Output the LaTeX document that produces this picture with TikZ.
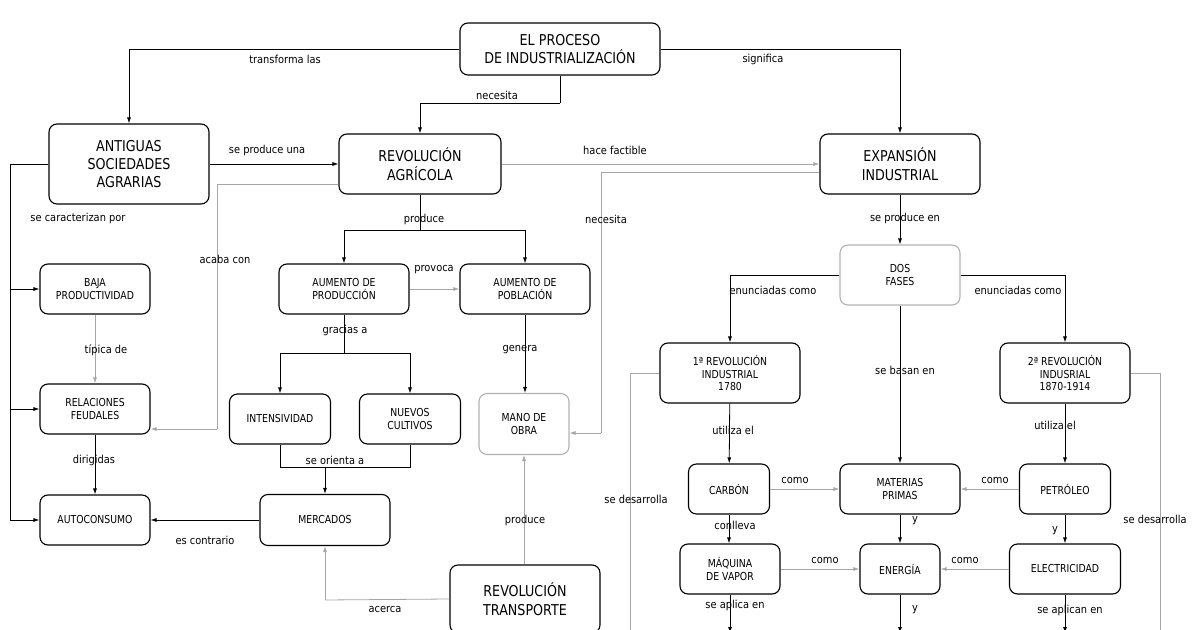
\documentclass[tikz,border=0pt]{standalone}
\usepackage{fontspec}
\setmainfont{DejaVu Sans}
\usetikzlibrary{arrows.meta,calc}
\begin{document}
\begin{tikzpicture}[x=1bp,y=-1bp,
  box/.style={draw,rounded corners=8bp,line width=1.1bp,align=center,inner sep=1bp,font=\fontsize{11}{13}\selectfont\addfontfeatures{FakeStretch=0.85}},
  big/.style={box,font=\fontsize{15}{18.5}\selectfont\addfontfeatures{FakeStretch=0.85}},
  gbox/.style={box,draw=gray!60},
  e/.style={line width=0.8bp,-{Latex[length=6bp,width=4bp]}},
  l/.style={line width=0.8bp},
  g/.style={draw=gray!70},
  lab/.style={font=\fontsize{11}{13}\selectfont\addfontfeatures{FakeStretch=0.9},inner sep=0}]
\useasboundingbox (0,0) rectangle (1200,630);
\clip (0,0) rectangle (1200,630);
\node[big,minimum width=200bp,minimum height=52bp] (proceso) at (560,49) {EL PROCESO\\DE INDUSTRIALIZACIÓN};
\node[big,minimum width=160bp,minimum height=80bp] (antiguas) at (129,164) {ANTIGUAS\\SOCIEDADES\\AGRARIAS};
\node[big,minimum width=162bp,minimum height=60bp] (revagr) at (420,164) {REVOLUCIÓN\\AGRÍCOLA};
\node[big,minimum width=160bp,minimum height=60bp] (expansion) at (900,164) {EXPANSIÓN\\INDUSTRIAL};
\node[gbox,minimum width=120bp,minimum height=60bp] (fases) at (900,275) {DOS\\FASES};
\node[box,minimum width=110bp,minimum height=50bp] (baja) at (95,289) {BAJA\\PRODUCTIVIDAD};
\node[box,minimum width=110bp,minimum height=50bp] (relaciones) at (95,409) {RELACIONES\\FEUDALES};
\node[box,minimum width=110bp,minimum height=50bp] (autoconsumo) at (95,520) {AUTOCONSUMO};
\node[box,minimum width=130bp,minimum height=50bp] (aumprod) at (344,289) {AUMENTO DE\\PRODUCCIÓN};
\node[box,minimum width=130bp,minimum height=50bp] (aumpob) at (525,289) {AUMENTO DE\\POBLACIÓN};
\node[box,minimum width=101bp,minimum height=50bp] (intens) at (280,419) {INTENSIVIDAD};
\node[box,minimum width=101bp,minimum height=50bp] (nuevos) at (410,419) {NUEVOS\\CULTIVOS};
\node[gbox,minimum width=90bp,minimum height=61bp] (mano) at (524,424) {MANO DE\\OBRA};
\node[box,minimum width=130bp,minimum height=51bp] (mercados) at (325,520) {MERCADOS};
\node[big,minimum width=150bp,minimum height=68bp] (revtrans) at (525,599) {REVOLUCIÓN\\TRANSPORTE};
\node[box,minimum width=140bp,minimum height=60bp] (rev1) at (730,373) {1ª REVOLUCIÓN\\INDUSTRIAL\\1780};
\node[box,minimum width=130bp,minimum height=60bp] (rev2) at (1065,373) {2ª REVOLUCIÓN\\INDUSRIAL\\1870-1914};
\node[box,minimum width=81bp,minimum height=50bp] (carbon) at (729,489) {CARBÓN};
\node[box,minimum width=120bp,minimum height=50bp] (materias) at (900,489) {MATERIAS\\PRIMAS};
\node[box,minimum width=91bp,minimum height=50bp] (petroleo) at (1065,489) {PETRÓLEO};
\node[box,minimum width=100bp,minimum height=50bp] (maquina) at (730,569) {MÁQUINA\\DE VAPOR};
\node[box,minimum width=80bp,minimum height=50bp] (energia) at (900,569) {ENERGÍA};
\node[box,minimum width=111bp,minimum height=50bp] (electr) at (1065,569) {ELECTRICIDAD};
\coordinate (n1) at (560,103);
\coordinate (c2) at (601,433);
\coordinate (c3) at (217,429);
\coordinate (c4) at (10,520);
\coordinate (p1) at (420,230);
\coordinate (p2) at (344,353);
\coordinate (p3) at (325,467);
\coordinate (t1) at (325,600);
\coordinate (d1) at (630,636);
\coordinate (d2) at (1160,636);
\coordinate (b1) at (730,633);
\coordinate (b2) at (900,633);
\coordinate (b3) at (1065,633);
% edges
\draw[e] (proceso.west) -| (antiguas.north);
\draw[e] (proceso.east) -| (expansion.north);
\draw[l] (proceso.south) -- (n1);
\draw[e] (n1) -| (revagr.north);
\draw[e] (antiguas.east) -- (revagr.west);
\draw[e,g] (revagr.east) -- (expansion.west);
\draw[l,g] ([yshift=-8bp]expansion.west) -| (c2);
\draw[e,g] (c2) -- (c2 -| mano.east);
\draw[l,g] ([yshift=-20bp]revagr.west) -| (c3);
\draw[e,g] (c3) -- (c3 -| relaciones.east);
\draw[l] (antiguas.west) -| (c4);
\draw[e] (c4) -- (autoconsumo.west);
\draw[e] (baja.west -| c4) -- (baja.west);
\draw[e] (relaciones.west -| c4) -- (relaciones.west);
\draw[e,g] (baja) -- (relaciones);
\draw[e] (relaciones) -- (autoconsumo);
\draw[l] (revagr.south) -- (p1);
\draw[e] (p1) -| (aumprod.north);
\draw[e] (p1) -| (aumpob.north);
\draw[e,g] (aumprod) -- (aumpob);
\draw[l] (aumprod.south) -- (p2);
\draw[e] (p2) -| (intens.north);
\draw[e] (p2) -| (nuevos.north);
\draw[e] (aumpob) -- (aumpob.south |- mano.north);
\draw[l] (intens.south) |- (p3);
\draw[l] (nuevos.south) |- (p3);
\draw[e] (p3) -- (mercados.north);
\draw[e] (mercados) -- (autoconsumo);
\draw[e,g] (revtrans.north -| mano) -- (mano.south);
\draw[l,g] (revtrans.west) -- (t1);
\draw[e,g] (t1) -- (mercados.south);
\draw[e] (expansion) -- (fases);
\draw[e] (fases.west) -| (rev1.north);
\draw[e] (fases.east) -| (rev2.north);
\draw[e] (fases) -- (materias);
\draw[l,g] (rev1.west) -| (d1);
\draw[l,g] (rev2.east) -| (d2);
\draw[e] (rev1) -- (carbon);
\draw[e] (rev2) -- (petroleo);
\draw[e] (carbon.south) -- (carbon.south |- maquina.north);
\draw[e,g] (carbon) -- (materias);
\draw[e,g] (petroleo) -- (materias);
\draw[e] (materias) -- (energia);
\draw[e] (petroleo) -- (electr);
\draw[e,g] (maquina) -- (energia);
\draw[e,g] (electr) -- (energia);
\draw[e] (maquina.south) -- (b1);
\draw[e] (energia.south) -- (b2);
\draw[e] (electr.south) -- (b3);
% labels
\node[lab] (L1) at (285,59) {transforma las};
\node[lab] (L2) at (763,59) {significa};
\node[lab] (L3) at (497,95) {necesita};
\node[lab] (L4) at (267,150) {se produce una};
\node[lab] (L5) at (615,150) {hace factible};
\node[lab] (L6) at (606,219) {necesita};
\node[lab] (L7) at (78,218) {se caracterizan por};
\node[lab] (L8) at (225,259) {acaba con};
\node[lab] (L9) at (424,219) {produce};
\node[lab] (L10) at (434,270) {provoca};
\node[lab] (L11) at (345,330) {gracias a};
\node[lab] (L12) at (520,350) {genera};
\node[lab] (L13) at (106,350) {típica de};
\node[lab] (L14) at (94,460) {dirigidas};
\node[lab] (L15) at (335,460) {se orienta a};
\node[lab] (L16) at (205,540) {es contrario};
\node[lab] (L17) at (525,520) {produce};
\node[lab] (L18) at (385,610) {acerca};
\node[lab] (L19) at (905,218) {se produce en};
\node[lab] (L20) at (773,290) {enunciadas como};
\node[lab] (L21) at (1018,290) {enunciadas como};
\node[lab] (L22) at (905,370) {se basan en};
\node[lab] (L23) at (733,430) {utiliza el};
\node[lab] (L24) at (1055,425) {utiliza el};
\node[lab] (L25) at (636,499) {se desarrolla};
\node[lab] (L26) at (1155,519) {se desarrolla};
\node[lab] (L27) at (795,481) {como};
\node[lab] (L28) at (995,481) {como};
\node[lab] (L29) at (735,525) {conlleva};
\node[lab] (L30) at (915,521) {y};
\node[lab] (L31) at (1055,531) {y};
\node[lab] (L32) at (825,561) {como};
\node[lab] (L33) at (965,561) {como};
\node[lab] (L34) at (735,605) {se aplica en};
\node[lab] (L35) at (915,610) {y};
\node[lab] (L36) at (1070,610) {se aplican en};
\end{tikzpicture}
\end{document}
